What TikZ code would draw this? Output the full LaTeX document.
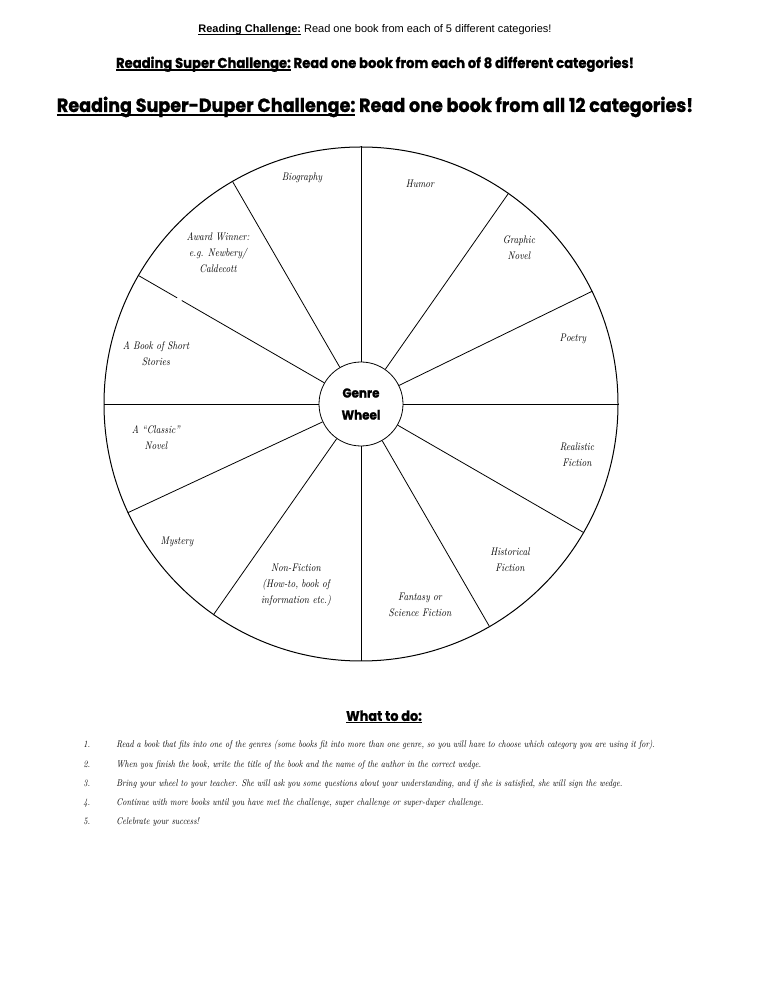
\documentclass[tikz,border=0pt]{standalone}
\usepackage{fontspec}
\usetikzlibrary{calc,positioning}
\newfontfamily\headfont[FakeStretch=0.92,FakeBold=1]{Poppins}
\newfontfamily\plainhead{Liberation Sans}
\newfontfamily\handfont[FakeStretch=0.85,Ligatures=TeX]{lmroman10-italic.otf}
% thickness, depth below baseline, text
\newcommand{\thickul}[3]{\setbox0=\hbox{#3}\rlap{\rule[-#2]{\wd0}{#1}}\box0\relax}
\tikzset{
  genre/.style={font=\handfont\fontsize{11}{16}\selectfont, align=center},
  todo/.style={font=\handfont\fontsize{9.7}{10}\selectfont, anchor=base west, inner sep=0pt},
}

\begin{document}
\begin{tikzpicture}[x=1pt,y=1pt,line width=0.8pt]
\useasboundingbox (0,0) rectangle (768,994);
\node[font=\plainhead\fontsize{11}{13}\selectfont, anchor=base, inner sep=0] (lvl1) at (375,961)
  {\textbf{\thickul{1pt}{2.5pt}{Reading Challenge:}} Read one book from each of 5 different categories!};
\node[font=\headfont\bfseries\fontsize{14.3}{16}\selectfont, anchor=base, inner sep=0] (lvl2) at (375,926)
  {\thickul{1.5pt}{3pt}{Reading Super Challenge:} Read one book from each of 8 different categories!};
\node[font=\headfont\bfseries\fontsize{19.1}{22}\selectfont, anchor=base, inner sep=0] (lvl3) at (375,882)
  {\thickul{2pt}{4.5pt}{Reading Super-Duper Challenge:} Read one book from all 12 categories!};

\coordinate (c) at (361,590);
\node[circle,draw,line width=1pt,minimum size=514pt,inner sep=0] (wheel) at (c) {};
\node[circle,draw,minimum size=84pt,inner sep=0,align=center,
  font=\headfont\bfseries\fontsize{13}{22}\selectfont] (hub) at (c) {Genre\\Wheel};
\foreach \a in {0,26,55,90,120,180,205,235,270,300,330}
  \draw (hub.\a) -- (wheel.\a);
\draw (hub.150) -- ($(wheel.150)!0.235!(hub.150)$) ($(wheel.150)!0.21!(hub.150)$) -- (wheel.150);

\node[genre] (bio) at (302,816) {Biography};
\node[genre] (humor) at (420,810) {Humor};
\node[genre] (graphic) at (519,746) {Graphic\\Novel};
\node[genre] (poetry) at (573,655) {Poetry};
\node[genre] (realistic) at (577,539.5) {Realistic\\Fiction};
\node[genre] (historical) at (510,434.5) {Historical\\Fiction};
\node[genre] (fantasy) at (420,389) {Fantasy or\\Science Fiction};
\node[genre] (nonfic) at (296,409) {Non-Fiction\\(How-to, book of\\information etc.)};
\node[genre] (mystery) at (177,452) {Mystery};
\node[genre] (classic) at (156,556) {A ``Classic''\\Novel};
\node[genre] (short) at (156,640.5) {A Book of Short\\Stories};
\node[genre] (award) at (218,741) {Award Winner:\\e.g. Newbery/\\Caldecott};

\node[font=\headfont\bfseries\fontsize{14}{16}\selectfont] (what) at (384,277) {\thickul{1.2pt}{2.5pt}{What to do:}};
\foreach \n/\txt in {
  1/{Read a book that fits into one of the genres (some books fit into more than one genre, so you will have to choose which category you are using it for).},
  2/{When you finish the book, write the title of the book and the name of the author in the correct wedge.},
  3/{Bring your wheel to your teacher. She will ask you some questions about your understanding, and if she is satisfied, she will sign the wedge.},
  4/{Continue with more books until you have met the challenge, super challenge or super-duper challenge.},
  5/{Celebrate your success!}} {
  \node[todo] (num\n) at (83,{265.25-19.25*\n}) {\n.};
  \node[todo] (item\n) at (116,{265.25-19.25*\n}) {\txt};
}
\end{tikzpicture}
\end{document}
